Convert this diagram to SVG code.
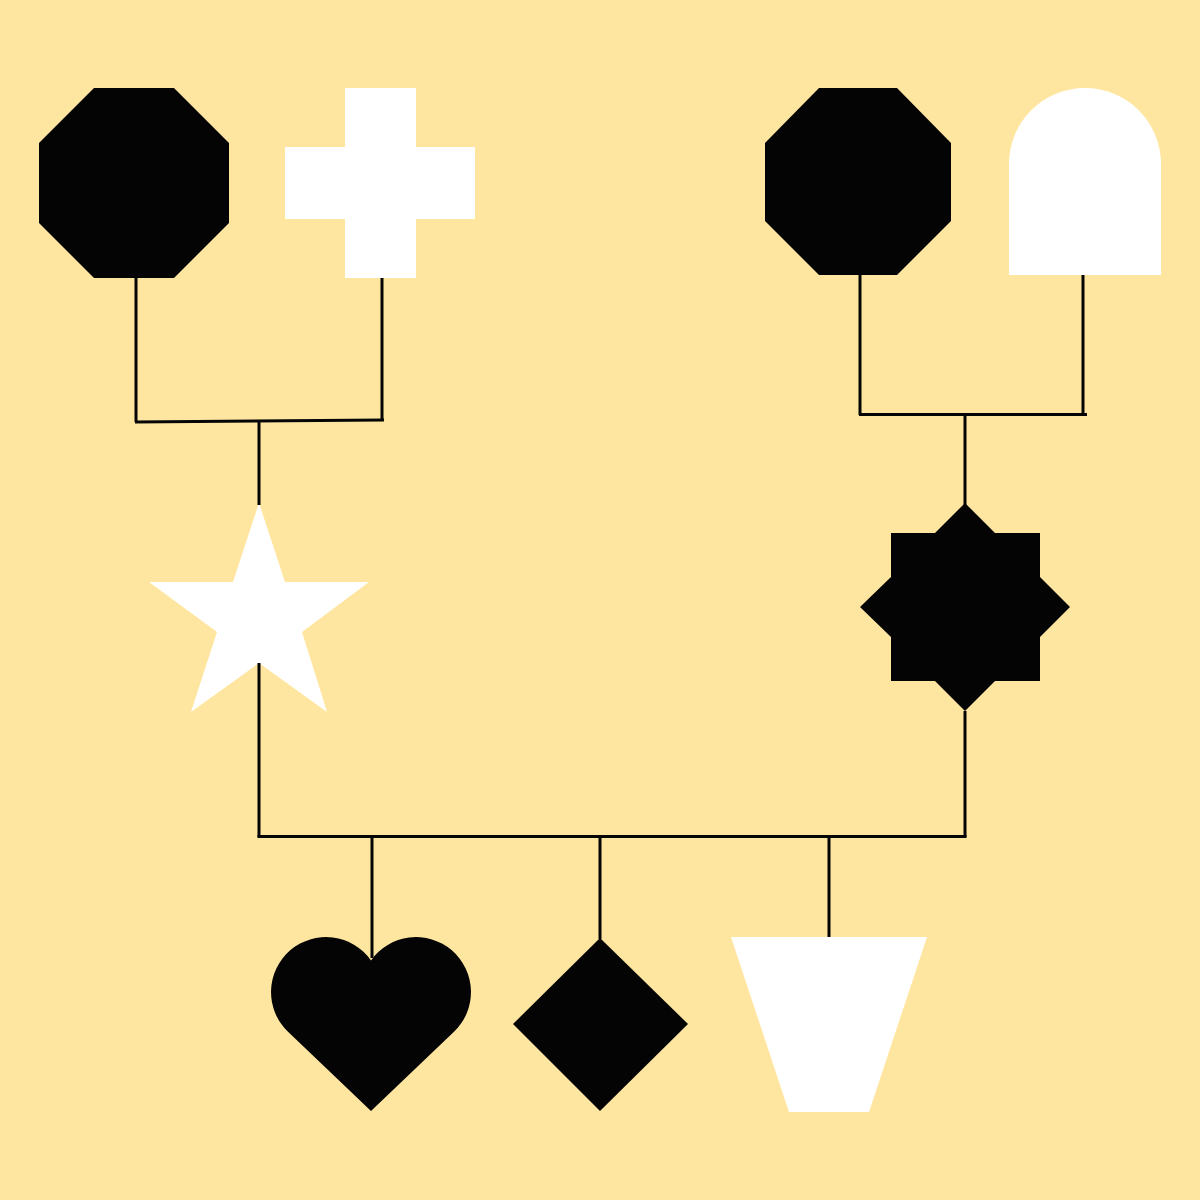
<svg xmlns="http://www.w3.org/2000/svg" width="1200" height="1200" viewBox="0 0 1200 1200">
<style>
.dark{fill:#040404}
.light{fill:#ffffff}
.wire{stroke:#050505;stroke-width:3;fill:none;stroke-linecap:butt}
</style>
<rect x="0" y="0" width="1200" height="1200" fill="#FFE6A0"/>
<g id="octagon-left"><polygon class="dark" points="94,88 174,88 229,143 229,223 174,278 94,278 39,223 39,143"/></g>
<g id="cross"><polygon class="light" points="345,88 416,88 416,147 475,147 475,219 416,219 416,278 345,278 345,219 285,219 285,147 345,147"/></g>
<g id="octagon-right"><polygon class="dark" points="819,88 897,88 951,143 951,221 897,275 819,275 765,221 765,143"/></g>
<g id="dome"><path class="light" d="M1009,275 V164 A76,76 0 0 1 1161,164 V275 Z"/></g>
<g id="star"><polygon class="light" points="259,503 285,582 369,582 302,632 327,712 259,663 191,712 217,632 149,582 233,582"/></g>
<g id="star8"><polygon class="dark" points="965,503 995,533 1040,533 1040,577 1070,607 1040,637 1040,681 995,681 965,711 935,681 891,681 891,637 860,607 891,577 891,533 935,533"/></g>
<g id="heart"><path class="dark" d="M371,1111 L288,1031.8 A55,55 0 1 1 371,960.4 A55,55 0 1 1 454,1031.8 Z"/></g>
<g id="diamond"><polygon class="dark" points="600,938 688,1024 600,1111 513,1024"/></g>
<g id="trapezoid"><polygon class="light" points="731,937 927,937 869,1112 789,1112"/></g>
<g id="connectors">
<line class="wire" x1="136" y1="278" x2="136" y2="422"/>
<line class="wire" x1="382" y1="278" x2="382" y2="420"/>
<line class="wire" x1="135" y1="422" x2="384" y2="420"/>
<line class="wire" x1="259" y1="421" x2="259" y2="505"/>
<line class="wire" x1="860" y1="275" x2="860" y2="415"/>
<line class="wire" x1="1083" y1="275" x2="1083" y2="415"/>
<line class="wire" x1="859" y1="414.5" x2="1087" y2="414.5"/>
<line class="wire" x1="965" y1="414" x2="965" y2="540"/>
<line class="wire" x1="259" y1="663" x2="259" y2="837"/>
<line class="wire" x1="965" y1="711" x2="965" y2="837"/>
<line class="wire" x1="257.5" y1="836.5" x2="966.5" y2="836.5"/>
<line class="wire" x1="372" y1="836" x2="372" y2="958"/>
<line class="wire" x1="600" y1="836" x2="600" y2="939"/>
<line class="wire" x1="829" y1="836" x2="829" y2="937"/>
</g>
</svg>
